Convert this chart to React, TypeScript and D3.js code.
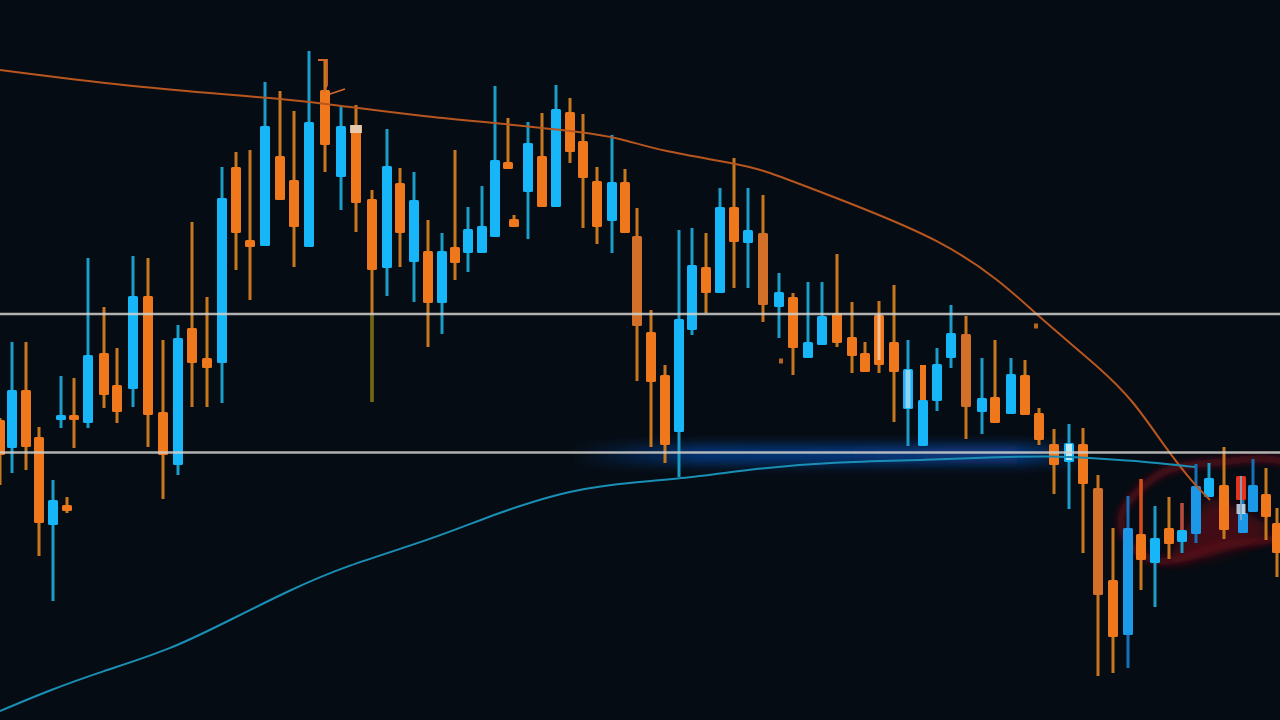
// App.tsx
import { useEffect, useRef } from "react";
import * as d3 from "d3";

const width = 1280;
const height = 720;

// time runs 0..128, price runs 0..72 (the picture has no axis labels)
const barTime = [
  0, 1.2, 2.6, 3.9, 5.3, 6.1, 6.7, 7.4, 8.8, 10.4,
  11.7, 13.3, 14.8, 16.3, 17.8, 19.2, 20.7, 22.2, 23.6, 25.0,
  26.5, 28.0, 29.4, 30.9, 32.5, 34.1, 35.6, 37.2, 38.7, 40.0,
  41.4, 42.8, 44.2, 45.5, 46.8, 48.2, 49.5, 50.8, 51.4, 52.8,
  54.2, 55.6, 57.0, 58.3, 59.7, 61.2, 62.5, 63.7, 65.1, 66.5,
  67.9, 69.2, 70.6, 72.0, 73.4, 74.8, 76.3, 77.9, 79.3, 80.8,
  82.2, 83.7, 85.2, 86.5, 87.9, 89.4, 90.8, 92.3, 93.7, 95.1,
  96.6, 98.2, 99.5, 101.1, 102.5, 103.9, 105.4, 106.9, 108.3, 109.8,
  111.3, 112.8, 114.1, 115.5, 116.9, 118.2, 119.6, 120.9, 122.4, 124.1,
  124.3, 125.3, 126.6, 127.7,
];
const barHigh = [
  30.2, 37.8, 37.8, 29.3, 24.0, 34.4, 22.3, 34.2, 46.2, 41.3,
  37.2, 46.4, 46.2, 38.0, 39.5, 49.8, 42.3, 55.3, 56.8, 57.0,
  63.8, 62.9, 60.9, 66.9, 66.0, 61.3, 61.5, 53.0, 59.1, 55.2,
  54.8, 50.0, 48.7, 57.0, 51.3, 53.4, 63.4, 60.2, 50.5, 59.8,
  60.7, 63.5, 62.2, 60.6, 55.3, 58.5, 55.1, 51.2, 41.0, 35.5,
  49.0, 49.2, 48.7, 53.2, 56.2, 53.2, 52.5, 44.7, 42.7, 43.8,
  43.8, 46.6, 41.8, 37.8, 41.9, 43.5, 38.0, 35.5, 37.2, 41.5,
  40.4, 36.2, 38.0, 36.2, 36.0, 31.2, 29.1, 29.6, 29.2, 24.5,
  19.2, 22.4, 24.1, 21.4, 22.3, 21.7, 25.6, 25.7, 27.3, 24.4,
  22.0, 26.1, 25.2, 21.2,
];
const barTop = [
  30.0, 33.0, 33.0, 28.3, 22.0, 30.5, 21.5, 30.5, 36.5, 36.7,
  33.5, 42.4, 42.4, 30.8, 38.2, 39.2, 36.2, 52.2, 55.3, 48.0,
  59.4, 56.4, 54.0, 59.8, 63.0, 59.4, 59.5, 52.1, 55.4, 53.7,
  52.0, 46.9, 46.9, 47.3, 49.1, 49.4, 56.0, 55.8, 50.1, 57.7,
  56.4, 61.1, 60.8, 57.9, 53.9, 53.8, 53.8, 48.4, 38.8, 34.5,
  40.1, 45.5, 45.3, 51.3, 51.3, 49.0, 48.7, 42.8, 42.3, 37.8,
  40.4, 40.7, 38.3, 36.7, 40.5, 37.8, 35.1, 32.0, 35.6, 38.7,
  38.6, 32.2, 32.3, 34.6, 34.5, 30.7, 27.6, 27.7, 27.6, 23.2,
  14.0, 19.2, 18.6, 18.2, 19.2, 19.0, 23.4, 24.2, 23.5, 24.4,
  20.7, 23.5, 22.6, 19.7,
];
const barBottom = [
  26.5, 27.2, 27.3, 19.7, 19.5, 30.0, 20.9, 30.0, 29.7, 32.5,
  30.8, 33.1, 30.5, 26.5, 25.5, 35.7, 35.2, 35.7, 48.7, 47.3,
  47.4, 52.0, 49.3, 47.3, 57.5, 54.3, 51.7, 45.0, 45.2, 48.7,
  45.8, 41.7, 41.7, 45.7, 46.7, 46.7, 48.3, 55.1, 49.3, 52.8,
  51.3, 51.3, 56.8, 54.2, 49.3, 49.9, 48.7, 39.4, 33.8, 27.5,
  28.8, 39.0, 42.7, 42.7, 47.8, 47.7, 41.5, 41.3, 37.2, 36.2,
  37.5, 37.7, 36.4, 34.8, 35.5, 34.8, 31.1, 27.4, 31.9, 36.2,
  31.3, 30.8, 29.7, 30.6, 30.5, 28.0, 25.5, 25.8, 23.6, 12.5,
  8.3, 8.5, 16.0, 15.7, 17.6, 17.8, 18.6, 22.3, 19.0, 22.0,
  18.7, 20.8, 20.3, 16.7,
];
const barLow = [
  23.5, 24.7, 25.0, 16.4, 11.9, 29.2, 20.7, 27.2, 29.2, 31.2,
  29.7, 31.3, 27.3, 22.1, 24.5, 31.3, 31.3, 31.7, 45.0, 42.0,
  47.4, 52.0, 45.3, 47.3, 54.8, 51.0, 48.8, 31.8, 42.4, 45.3,
  41.8, 37.3, 38.6, 44.0, 44.8, 46.7, 48.3, 55.1, 49.3, 48.1,
  51.3, 51.3, 55.7, 49.2, 47.6, 46.7, 48.7, 33.9, 27.3, 25.7,
  24.3, 38.5, 40.7, 42.7, 43.2, 43.2, 39.8, 38.2, 34.5, 36.2,
  37.5, 37.3, 34.7, 34.8, 34.7, 29.8, 27.4, 27.4, 30.9, 35.2,
  28.1, 28.6, 29.7, 30.6, 30.5, 27.5, 22.6, 21.1, 16.7, 4.4,
  4.7, 5.2, 13.0, 11.3, 16.1, 16.7, 17.7, 22.3, 18.1, 22.0,
  18.7, 20.8, 18.0, 14.3,
];
// b blue, n deep blue, o orange, d dull orange, r red
const barKind =
  "oboobboobo" +
  "oboobooboo" +
  "boobobooboo".slice(0, 10) +
  "bobobbboob" +
  "obooobodoo" +
  "bbobobdbob" +
  "booooobbbb" +
  "dbobooobod" +
  "onobobnbor" +
  "nnoo";

const specksTime = [78.1, 103.6];
const specksPrice = [35.9, 39.4];

const orangeAvgTime = [0, 14, 30, 34, 43, 49.5, 58.3, 62, 66, 73.4, 76.3, 79.7, 86, 94, 100, 104, 110, 113.3, 116.7, 119.3, 121];
const orangeAvgPrice = [65.0, 63.2, 62.0, 61.4, 60.3, 59.7, 58.8, 58.2, 56.9, 55.7, 55.0, 53.7, 51.3, 48.0, 44.0, 40.2, 35.2, 32.0, 27.0, 23.7, 22.0];
const blueAvgTime = [0, 5, 10, 17, 23, 29, 34.5, 43, 50, 56, 61, 68, 76, 83, 93, 100, 105, 109, 115, 119.5];
const blueAvgPrice = [0.9, 3.0, 4.8, 7.0, 10.0, 13.0, 15.4, 18.0, 20.8, 22.7, 23.6, 24.1, 25.2, 25.8, 26.0, 26.3, 26.4, 26.2, 25.8, 25.3];

const levels = [40.6, 26.75];

// paint marks laid over single bars: lighter cores, two-tone wicks
const overlayTime = [87.9, 90.8, 35.6, 124.1, 106.9, 92.3, 37.2, 114.1, 118.2, 124.1];
const overlayTop = [40.5, 35.0, 59.5, 21.6, 27.6, 35.5, 40.6, 24.1, 21.7, 24.4];
const overlayBottom = [36.0, 31.2, 58.7, 20.6, 26.0, 32.0, 31.8, 18.6, 19.0, 20.0];
const overlayWidth = [3, 5, 12, 9, 6, 6, 3, 3, 3, 2];
const overlayColor = ["#f4e4d0", "#c8dcec", "#e8d8c4", "#dcecf6", "#e6f6fc", "#f0781e", "#6b6a12", "#d8481a", "#d8402a", "#7aa8c8"];
const overlayOpacity = [0.65, 0.7, 0.85, 0.8, 0.8, 1, 1, 1, 1, 0.9];

// small hand-drawn strokes at the top bar
const scribbleOneTime = [31.8, 32.7, 32.7, 32.4];
const scribbleOnePrice = [66.0, 66.0, 63.5, 62.8];
const scribbleTwoTime = [33.0, 34.5];
const scribbleTwoPrice = [62.6, 63.1];

const kindFill: Record<string, string> = { b: "#12b6f8", n: "#1a98e8", o: "#f0781e", d: "#d2702c", r: "#e8301e" };
const kindWick: Record<string, string> = { b: "#1a9cc8", n: "#1470b8", o: "#c8781e", d: "#c8741e", r: "#d8402a" };

function App() {
  const svgRef = useRef<SVGSVGElement | null>(null);

  useEffect(() => {
    const svg = d3.select(svgRef.current);
    svg.selectAll("*").remove();

    const x = d3.scaleLinear().domain([0, 128]).range([0, width]);
    const y = d3.scaleLinear().domain([0, 72]).range([height, 0]);

    const defs = svg.append("defs");
    defs.append("filter").attr("id", "blur6").attr("x", "-20%").attr("y", "-60%").attr("width", "140%").attr("height", "220%")
      .append("feGaussianBlur").attr("stdDeviation", 6);
    defs.append("filter").attr("id", "blur3").attr("x", "-20%").attr("y", "-30%").attr("width", "140%").attr("height", "160%")
      .append("feGaussianBlur").attr("stdDeviation", 3);
    defs.append("filter").attr("id", "blur1").append("feGaussianBlur").attr("stdDeviation", 0.6);
    const glow = defs.append("linearGradient").attr("id", "glow");
    glow.append("stop").attr("offset", "0%").attr("stop-color", "#0a50b8").attr("stop-opacity", 0);
    glow.append("stop").attr("offset", "25%").attr("stop-color", "#0a50b8").attr("stop-opacity", 0.6);
    glow.append("stop").attr("offset", "85%").attr("stop-color", "#0a50b8").attr("stop-opacity", 0.7);
    glow.append("stop").attr("offset", "100%").attr("stop-color", "#0a50b8").attr("stop-opacity", 0);

    svg.append("rect").attr("width", width).attr("height", height).attr("fill", "#060c13");

    // blue glow behind the lower level
    svg.append("rect")
      .attr("x", x(57)).attr("width", x(109) - x(57))
      .attr("y", y(27.5)).attr("height", y(25.6) - y(27.5))
      .attr("fill", "url(#glow)").attr("filter", "url(#blur6)");

    // red swirl round the last bars
    const swirl = d3.line<[number, number]>().curve(d3.curveCatmullRomClosed)
      .x((d) => x(d[0])).y((d) => y(d[1]));
    svg.append("path")
      .attr("d", swirl([[112.2, 20.5], [116, 24.6], [122, 25.8], [129, 25.4], [129, 19], [122, 17.4], [116, 15.9], [113, 17.5]]))
      .attr("fill", "none").attr("stroke", "#6a0e1c").attr("stroke-width", 7)
      .attr("opacity", 0.8).attr("filter", "url(#blur3)");
    svg.append("path")
      .attr("d", swirl([[118, 18], [121, 22], [124, 21], [127, 19], [122, 16.6], [117, 16]]))
      .attr("fill", "#5a0a14").attr("opacity", 0.7).attr("filter", "url(#blur6)");

    const candles = svg.append("g").attr("filter", "url(#blur1)");
    barTime.forEach((t, i) => {
      const kind = barKind[i];
      candles.append("rect")
        .attr("x", x(t) - 1.5).attr("width", 3)
        .attr("y", y(barHigh[i])).attr("height", y(barLow[i]) - y(barHigh[i]))
        .attr("fill", kindWick[kind]);
      candles.append("rect")
        .attr("x", x(t) - 5).attr("width", 10)
        .attr("y", y(barTop[i])).attr("height", y(barBottom[i]) - y(barTop[i]))
        .attr("rx", 1.5)
        .attr("fill", kindFill[kind]);
    });
    overlayTime.forEach((t, i) => {
      candles.append("rect")
        .attr("x", x(t) - overlayWidth[i] / 2).attr("width", overlayWidth[i])
        .attr("y", y(overlayTop[i])).attr("height", y(overlayBottom[i]) - y(overlayTop[i]))
        .attr("fill", overlayColor[i]).attr("opacity", overlayOpacity[i]);
    });
    specksTime.forEach((t, i) => {
      candles.append("rect")
        .attr("x", x(t) - 2).attr("width", 4)
        .attr("y", y(specksPrice[i]) - 2.5).attr("height", 5)
        .attr("fill", "#b8641e");
    });

    const scribble = d3.line<number>().x((d) => x(d));
    [[scribbleOneTime, scribbleOnePrice], [scribbleTwoTime, scribbleTwoPrice]].forEach(([ts, ps]) => {
      svg.append("path")
        .attr("d", scribble.y((_, i) => y(ps[i]))(ts) as string)
        .attr("fill", "none").attr("stroke", "#d4682a").attr("stroke-width", 1.8);
    });

    const orangeLine = d3.line<number>()
      .curve(d3.curveBasis)
      .x((_, i) => x(orangeAvgTime[i]))
      .y((d) => y(d));
    svg.append("path")
      .attr("d", orangeLine(orangeAvgPrice) as string)
      .attr("fill", "none").attr("stroke", "#b8561f").attr("stroke-width", 2);

    const blueLine = d3.line<number>()
      .curve(d3.curveBasis)
      .x((_, i) => x(blueAvgTime[i]))
      .y((d) => y(d));
    svg.append("path")
      .attr("d", blueLine(blueAvgPrice) as string)
      .attr("fill", "none").attr("stroke", "#1a8fb5").attr("stroke-width", 2);

    levels.forEach((level) => {
      svg.append("line")
        .attr("x1", 0).attr("x2", width)
        .attr("y1", y(level)).attr("y2", y(level))
        .attr("stroke", "#d0d0cc").attr("stroke-width", 2.4).attr("opacity", 0.85);
    });
  }, []);

  return (
    <svg
      ref={svgRef}
      width={width}
      height={height}
      style={{ position: "fixed", left: 0, top: 0, display: "block" }}
    ></svg>
  );
}

export default App;
